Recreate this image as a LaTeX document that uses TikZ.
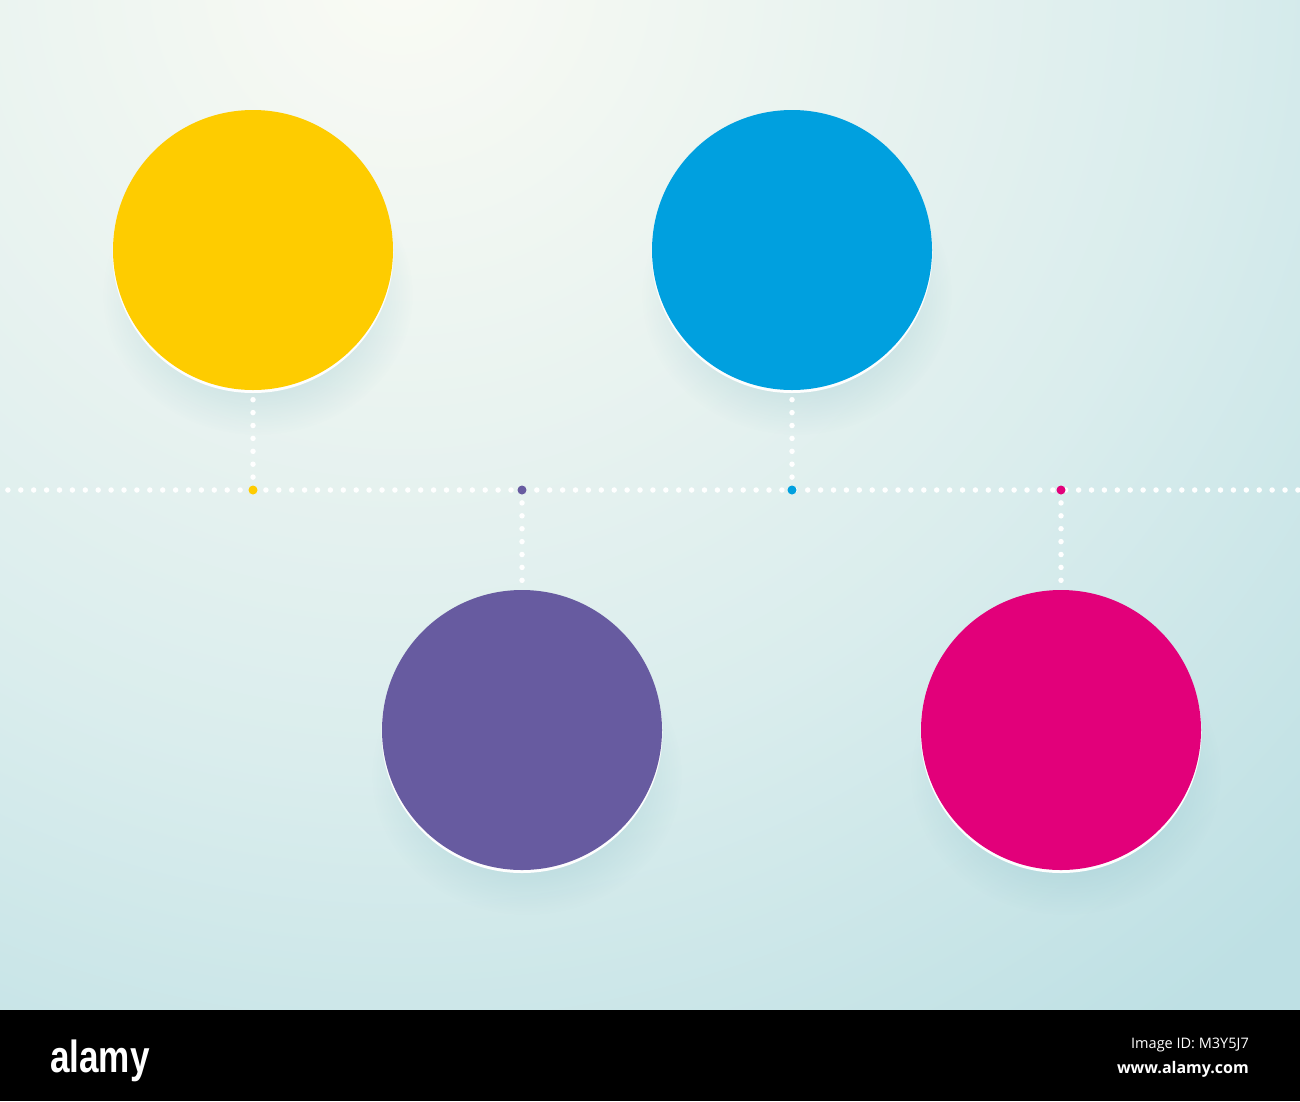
\documentclass[tikz,border=0pt]{standalone}
\usepackage{fontspec}
\setmainfont{Open Sans}
\newfontfamily\logofont{Liberation Sans}
\usetikzlibrary{fadings}
\definecolor{bgA}{HTML}{FAFBF4}
\definecolor{bgB}{HTML}{E9F3F0}
\definecolor{bgC}{HTML}{DAEDED}
\definecolor{bgD}{HTML}{BEE0E4}
\definecolor{ballyellow}{HTML}{FECC00}
\definecolor{ballblue}{HTML}{00A0DF}
\definecolor{ballpurple}{HTML}{675BA0}
\definecolor{ballpink}{HTML}{E2007A}
\definecolor{shadowcol}{HTML}{7FB8C2}
\pgfdeclareradialshading{bgglow}{\pgfpoint{0bp}{0bp}}{color(0bp)=(bgA); color(7.5bp)=(bgB); color(13.3bp)=(bgC); color(21.7bp)=(bgD); color(50bp)=(bgD)}
\tikzfading[name=softshadow, inner color=transparent!30, outer color=transparent!100]
\tikzset{
  ball/.style={circle, minimum size=280pt, inner sep=0pt, fill=#1},
  rim/.style={fill=white!96!bgC},
  dotline/.style={white, line width=5.5pt, line cap=round, dash pattern=on 0pt off 12.9pt},
  ballshadow/.style={fill=shadowcol, path fading=softshadow}
}

\begin{document}
\begin{tikzpicture}[x=1pt, y=-1pt]
		%%%%% START %%%%%
		\useasboundingbox (0, 0) rectangle (1300, 1101);
		
		% background
		\begin{scope}
		\clip (0, 0) rectangle (1300, 1010);
		\shade[shading=bgglow] (400, -30) circle (1500);
		\end{scope}
		
		% shadows
		\fill[ballshadow] (258, 295) ellipse (155 and 140);
		\fill[ballshadow] (797, 295) ellipse (155 and 140);
		\fill[ballshadow] (527, 775) ellipse (155 and 140);
		\fill[ballshadow] (1066, 775) ellipse (155 and 140);
		
		% white rims
		\fill[rim] (253, 252.5) circle (140.5);
		\fill[rim] (792, 252.5) circle (140.5);
		\fill[rim] (522, 732.5) circle (140.5);
		\fill[rim] (1061, 732.5) circle (140.5);
		
		% circles
		\node[ball=ballyellow] (yellowball) at (253, 250) {};
		\node[ball=ballblue] (blueball) at (792, 250) {};
		\node[ball=ballpurple] (purpleball) at (522, 730) {};
		\node[ball=ballpink] (pinkball) at (1061, 730) {};
		
		% junctions
		\coordinate (jyellow) at (253, 490);
		\coordinate (jpurple) at (522, 490);
		\coordinate (jblue) at (792, 490);
		\coordinate (jpink) at (1061, 490);
		\coordinate (leftend) at (0, 490);
		\coordinate (rightend) at (1300, 490);
		
		\draw[dotline] (jyellow) -- (leftend);
		\draw[dotline] (jyellow) -- (rightend);
		\draw[dotline] (jyellow) -- (yellowball.south);
		\draw[dotline] (jblue) -- (blueball.south);
		\draw[dotline] (jpurple) -- (purpleball.north);
		\draw[dotline] (jpink) -- (pinkball.north);
		
		\fill[ballyellow] (jyellow) circle (4.5);
		\fill[ballpurple] (jpurple) circle (4.5);
		\fill[ballblue] (jblue) circle (4.5);
		\fill[ballpink] (jpink) circle (4.5);
		
		% banner
		\fill[black] (0, 1010) rectangle (1300, 1101);
		\node[white, anchor=base west, xscale=0.78, inner sep=0pt, font=\logofont\bfseries\fontsize{45}{45}\selectfont] (logo) at (50, 1072) {alamy};
		\node[white, anchor=base east, inner sep=0pt, font=\fontsize{14.5}{14.5}\selectfont] (imgid) at (1249, 1048) {Image ID: M3Y5J7};
		\node[white, anchor=base east, inner sep=0pt, font=\bfseries\fontsize{16}{16}\selectfont] (website) at (1249, 1073) {www.alamy.com};
		
		%%%%% END %%%%%
\end{tikzpicture}
\end{document}
